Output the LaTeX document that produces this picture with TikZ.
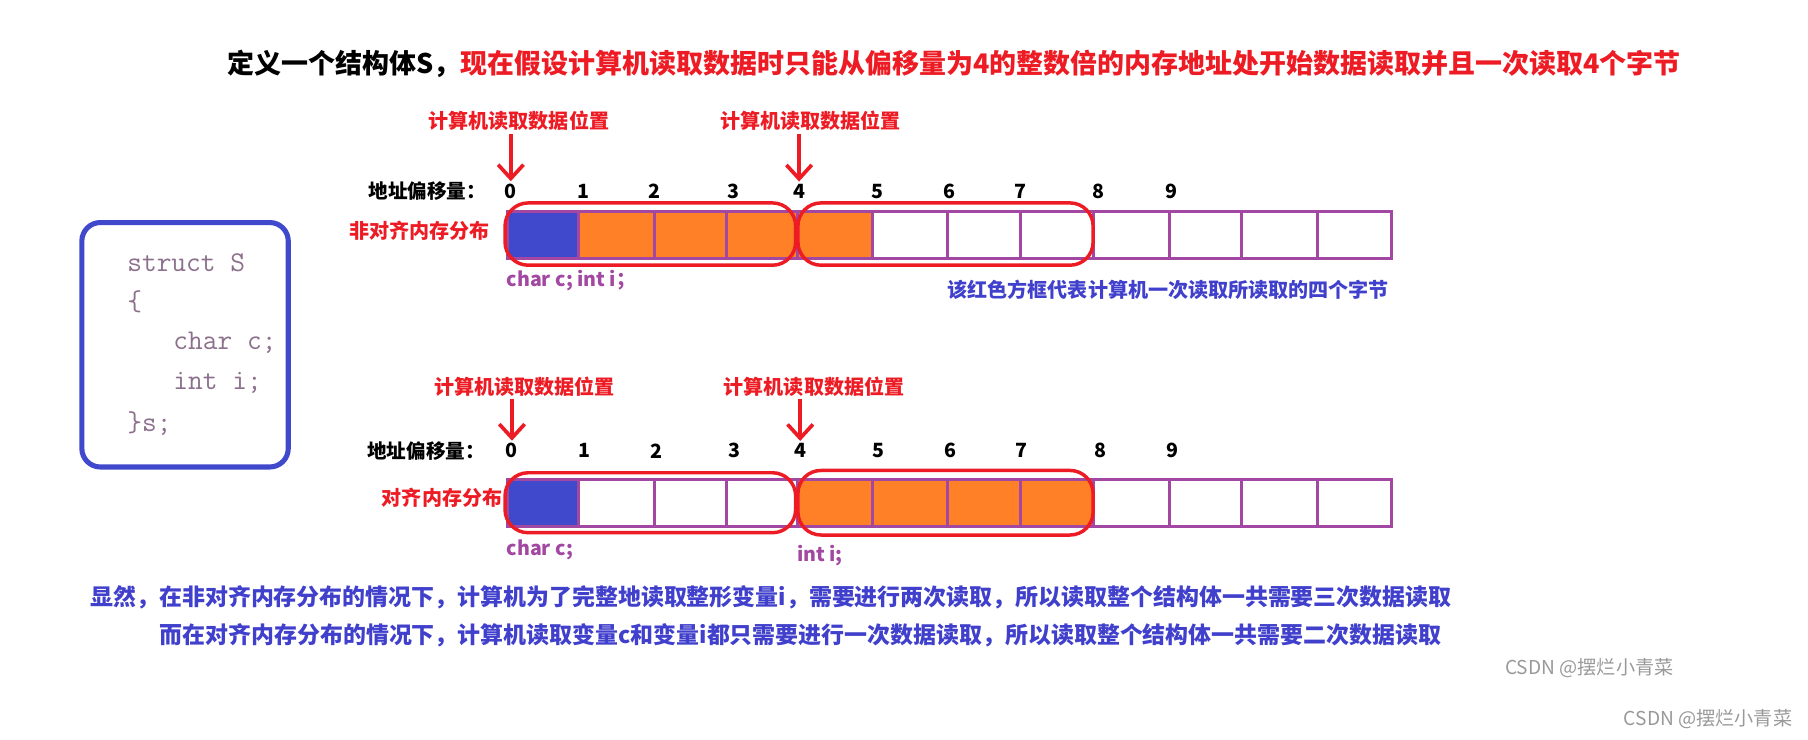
\documentclass[tikz,border=0pt]{standalone}
\usepackage{fontspec}
\setmainfont{Noto Sans CJK SC}
\usetikzlibrary{arrows.meta,positioning}

\definecolor{cellblue}{RGB}{64,72,204}
\definecolor{cellorange}{RGB}{255,128,39}
\definecolor{cellline}{RGB}{162,72,162}
\definecolor{readred}{RGB}{237,28,36}
\definecolor{noteblue}{RGB}{64,64,204}
\definecolor{codegray}{RGB}{140,112,140}

\tikzset{
  cellbox/.style={draw=cellline, line width=1.3pt},
  readbox/.style={draw=readred, line width=1.5pt, rounded corners=10pt},
  readarrow/.style={->, draw=readred, line width=1.6pt},
  readlbl/.style={text=readred, inner sep=1pt, font=\bfseries\fontsize{8.7pt}{10pt}\selectfont},
  rowlbl/.style={text=readred, inner sep=1pt, anchor=east, font=\bfseries\fontsize{8.7pt}{10pt}\selectfont},
  offlbl/.style={inner sep=1pt, anchor=east, font=\bfseries\fontsize{8.5pt}{10pt}\selectfont},
  numlbl/.style={inner sep=1pt, font=\bfseries\fontsize{8.5pt}{10pt}\selectfont},
  varlbl/.style={text=cellline, inner sep=1pt, anchor=west, font=\bfseries\fontsize{8.5pt}{10pt}\selectfont},
  notelbl/.style={text=noteblue, inner sep=1pt, anchor=west, font=\bfseries\fontsize{9.95pt}{12pt}\selectfont},
  codelbl/.style={text=codegray, inner sep=0pt, anchor=west, font=\ttfamily\fontsize{12.4pt}{14pt}\selectfont},
  marklbl/.style={text=black!40, inner sep=0pt, anchor=west, font=\fontsize{8.3pt}{10pt}\selectfont}
}

\begin{document}
\begin{tikzpicture}[x=0.5pt, y=-0.5pt, >={Straight Barb[length=6pt,width=11pt]}]
  \useasboundingbox (0,0) rectangle (1568,641);

  % --- Titel ---
  \node[anchor=west, inner sep=0pt, font=\bfseries\fontsize{11.7pt}{14pt}\selectfont] (title) at (197,55)
    {定义一个结构体S，\textcolor{readred}{现在假设计算机读取数据时只能从偏移量为4的整数倍的内存地址处开始数据读取并且一次读取4个字节}};

  % --- struct S ---
  \draw[draw=cellblue, line width=2.2pt, rounded corners=8pt] (71,193) rectangle (250,405);
  \foreach \x/\y/\t [count=\k] in {110/228/struct S, 110/262/\{, 150/297/char c;, 150/332/int i;, 110/367/\}s;}
    \node[codelbl] (code\k) at (\x,\y) {\t};

  % --- geheugencellen: x-links / x-rechts / kleur rij A / kleur rij B ---
  \foreach \xa/\xb/\fa/\fb in {440/502/cellblue/cellblue, 502/568/cellorange/white, 568/630/cellorange/white,
      630/692/cellorange/white, 692/757/cellorange/cellorange, 757/822/white/cellorange, 822/885/white/cellorange,
      885/948/white/cellorange, 948/1014/white/white, 1014/1077/white/white, 1077/1143/white/white, 1143/1207/white/white} {
    \filldraw[cellbox, fill=\fa] (\xa,183) rectangle (\xb,224);
    \filldraw[cellbox, fill=\fb] (\xa,416) rectangle (\xb,457);
  }

  % --- offsets ---
  \node[offlbl] (offA) at (424,166) {地址偏移量：};
  \node[offlbl] (offB) at (423,391) {地址偏移量：};
  \foreach \n/\x in {0/443, 1/506, 2/568, 3/636, 4/693, 5/761, 6/823, 7/885, 8/953, 9/1016} {
    \node[numlbl] (nA\n) at (\x,166) {\n};
    \node[numlbl] (nB\n) at (\x+1,391) {\n};
  }

  % --- rij A: niet uitgelijnd ---
  \node[rowlbl] (rowA) at (427,200) {非对齐内存分布};
  \draw[readbox] (438,176) rectangle (690,230);
  \draw[readbox] (692,176) rectangle (948,230);
  \node[readlbl] (readA0) at (450,105) {计算机读取数据位置};
  \node[readlbl] (readA4) at (703,105) {计算机读取数据位置};
  \draw[readarrow] (readA0.south -| nA0) -- (nA0.north);
  \draw[readarrow] (readA4.south -| nA4) -- (nA4.north);
  \node[varlbl] (varA) at (437,243) {char c; int i；};
  \node[text=noteblue, inner sep=1pt, anchor=east, font=\bfseries\fontsize{8.7pt}{10pt}\selectfont] (boxnote) at (1207,251)
    {该红色方框代表计算机一次读取所读取的四个字节};

  % --- rij B: uitgelijnd ---
  \node[rowlbl] (rowB) at (438,432) {对齐内存分布};
  \draw[readbox] (438,410) rectangle (690,462);
  \draw[readbox] (692,408) rectangle (948,464);
  \node[readlbl] (readB0) at (455,335) {计算机读取数据位置};
  \node[readlbl] (readB4) at (706,335) {计算机读取数据位置};
  \draw[readarrow] (readB0.south -| nB0) -- (nB0.north);
  \draw[readarrow] (readB4.south -| nB4) -- (nB4.north);
  \node[varlbl] (varBc) at (437,477) {char c;};
  \node[varlbl] (varBi) at (689,482) {int i;};

  % --- conclusie ---
  \node[notelbl] (noteA) at (76,518) {显然，在非对齐内存分布的情况下，计算机为了完整地读取整形变量i，需要进行两次读取，所以读取整个结构体一共需要三次数据读取};
  \node[notelbl] (noteB) at (136,551) {而在对齐内存分布的情况下，计算机读取变量c和变量i都只需要进行一次数据读取，所以读取整个结构体一共需要二次数据读取};

  % --- watermerk ---
  \node[marklbl] (markA) at (1305,579) {CSDN @摆烂小青菜};
  \node[marklbl] (markB) at (1408,624) {CSDN @摆烂小青菜};
\end{tikzpicture}
\end{document}
